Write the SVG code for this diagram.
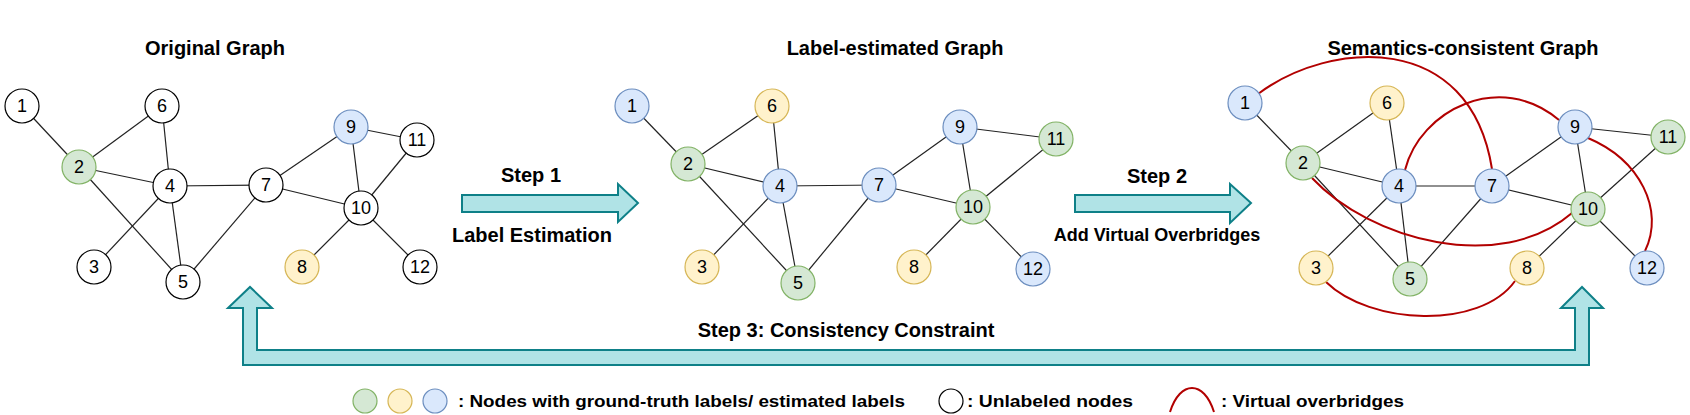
<svg xmlns="http://www.w3.org/2000/svg" width="1690" height="415" viewBox="0 0 1690 415">
<style>
text{font-family:"Liberation Sans",Arial,sans-serif}
.t{font-size:20px;font-weight:bold;text-anchor:middle}
.s{font-size:20px;font-weight:bold;text-anchor:middle}
.n{font-size:18px;text-anchor:middle;dominant-baseline:central}
.lg{font-size:16px;font-weight:bold}
.w{fill:#fff;stroke:#000;stroke-width:1.2}
.g{fill:#d5e8d4;stroke:#82b366;stroke-width:1.2}
.y{fill:#fff2cc;stroke:#d6b656;stroke-width:1.2}
.b{fill:#dae8fc;stroke:#6c8ebf;stroke-width:1.2}
.e line{stroke:#222;stroke-width:1.2}
.r{fill:none;stroke:#b20000;stroke-width:2}
.ar{fill:#b0e3e6;stroke:#0e8088;stroke-width:2}
</style>
<rect width="1690" height="415" fill="#fff"/>
<text class="t" x="215" y="55">Original Graph</text>
<text class="t" x="895" y="55">Label-estimated Graph</text>
<text class="t" x="1463" y="55">Semantics-consistent Graph</text>

<g id="connectors">
<g class="e">
<line x1="22" y1="106" x2="79" y2="167"/><line x1="79" y1="167" x2="162" y2="106"/><line x1="79" y1="167" x2="170" y2="186"/><line x1="79" y1="167" x2="183" y2="282"/><line x1="162" y1="106" x2="170" y2="186"/><line x1="170" y1="186" x2="94" y2="267"/><line x1="170" y1="186" x2="183" y2="282"/><line x1="170" y1="186" x2="266" y2="185"/><line x1="266" y1="185" x2="183" y2="282"/><line x1="266" y1="185" x2="351" y2="127"/><line x1="266" y1="185" x2="361" y2="208"/><line x1="351" y1="127" x2="361" y2="208"/><line x1="351" y1="127" x2="417" y2="140"/><line x1="417" y1="140" x2="361" y2="208"/><line x1="361" y1="208" x2="302" y2="267"/><line x1="361" y1="208" x2="420" y2="267"/>
</g>
<g class="e">
<line x1="632" y1="106" x2="688" y2="164"/><line x1="688" y1="164" x2="772" y2="106"/><line x1="688" y1="164" x2="780" y2="186"/><line x1="688" y1="164" x2="798" y2="283"/><line x1="772" y1="106" x2="780" y2="186"/><line x1="780" y1="186" x2="702" y2="267"/><line x1="780" y1="186" x2="798" y2="283"/><line x1="780" y1="186" x2="879" y2="185"/><line x1="879" y1="185" x2="798" y2="283"/><line x1="879" y1="185" x2="960" y2="127"/><line x1="879" y1="185" x2="973" y2="207"/><line x1="960" y1="127" x2="973" y2="207"/><line x1="960" y1="127" x2="1056" y2="139"/><line x1="1056" y1="139" x2="973" y2="207"/><line x1="973" y1="207" x2="914" y2="267"/><line x1="973" y1="207" x2="1033" y2="269"/>
</g>
<g class="e">
<line x1="1245" y1="103" x2="1303" y2="163"/><line x1="1303" y1="163" x2="1387" y2="103"/><line x1="1303" y1="163" x2="1399" y2="186"/><line x1="1303" y1="163" x2="1410" y2="279"/><line x1="1387" y1="103" x2="1399" y2="186"/><line x1="1399" y1="186" x2="1316" y2="268"/><line x1="1399" y1="186" x2="1410" y2="279"/><line x1="1399" y1="186" x2="1492" y2="186"/><line x1="1492" y1="186" x2="1410" y2="279"/><line x1="1492" y1="186" x2="1575" y2="127"/><line x1="1492" y1="186" x2="1588" y2="209"/><line x1="1575" y1="127" x2="1588" y2="209"/><line x1="1575" y1="127" x2="1668" y2="137"/><line x1="1668" y1="137" x2="1588" y2="209"/><line x1="1588" y1="209" x2="1527" y2="268"/><line x1="1588" y1="209" x2="1647" y2="268"/>
</g>
<path class="r" d="M1258,94 C1330,40 1470,30 1492,169"/>
<path class="r" d="M1405,170 C1420,110 1500,70 1559,120"/>
<path class="r" d="M1312,178 C1370,240 1500,275 1572,213"/>
<path class="r" d="M1588,138 C1640,160 1665,210 1645,251"/>
<path class="r" d="M1326,282 C1370,325 1480,330 1515,281"/>
</g>

<g id="g1">
<g id="g1n1"><circle class="w" cx="22" cy="106" r="17"/><text class="n" x="22" y="106">1</text></g>
<g id="g1n2"><circle class="g" cx="79" cy="167" r="17"/><text class="n" x="79" y="167">2</text></g>
<g id="g1n6"><circle class="w" cx="162" cy="106" r="17"/><text class="n" x="162" y="106">6</text></g>
<g id="g1n4"><circle class="w" cx="170" cy="186" r="17"/><text class="n" x="170" y="186">4</text></g>
<g id="g1n7"><circle class="w" cx="266" cy="185" r="17"/><text class="n" x="266" y="185">7</text></g>
<g id="g1n9"><circle class="b" cx="351" cy="127" r="17"/><text class="n" x="351" y="127">9</text></g>
<g id="g1n11"><circle class="w" cx="417" cy="140" r="17"/><text class="n" x="417" y="140">11</text></g>
<g id="g1n10"><circle class="w" cx="361" cy="208" r="17"/><text class="n" x="361" y="208">10</text></g>
<g id="g1n3"><circle class="w" cx="94" cy="267" r="17"/><text class="n" x="94" y="267">3</text></g>
<g id="g1n5"><circle class="w" cx="183" cy="282" r="17"/><text class="n" x="183" y="282">5</text></g>
<g id="g1n8"><circle class="y" cx="302" cy="267" r="17"/><text class="n" x="302" y="267">8</text></g>
<g id="g1n12"><circle class="w" cx="420" cy="267" r="17"/><text class="n" x="420" y="267">12</text></g>
</g>

<g id="g2">
<g id="g2n1"><circle class="b" cx="632" cy="106" r="17"/><text class="n" x="632" y="106">1</text></g>
<g id="g2n2"><circle class="g" cx="688" cy="164" r="17"/><text class="n" x="688" y="164">2</text></g>
<g id="g2n6"><circle class="y" cx="772" cy="106" r="17"/><text class="n" x="772" y="106">6</text></g>
<g id="g2n4"><circle class="b" cx="780" cy="186" r="17"/><text class="n" x="780" y="186">4</text></g>
<g id="g2n7"><circle class="b" cx="879" cy="185" r="17"/><text class="n" x="879" y="185">7</text></g>
<g id="g2n9"><circle class="b" cx="960" cy="127" r="17"/><text class="n" x="960" y="127">9</text></g>
<g id="g2n11"><circle class="g" cx="1056" cy="139" r="17"/><text class="n" x="1056" y="139">11</text></g>
<g id="g2n10"><circle class="g" cx="973" cy="207" r="17"/><text class="n" x="973" y="207">10</text></g>
<g id="g2n3"><circle class="y" cx="702" cy="267" r="17"/><text class="n" x="702" y="267">3</text></g>
<g id="g2n5"><circle class="g" cx="798" cy="283" r="17"/><text class="n" x="798" y="283">5</text></g>
<g id="g2n8"><circle class="y" cx="914" cy="267" r="17"/><text class="n" x="914" y="267">8</text></g>
<g id="g2n12"><circle class="b" cx="1033" cy="269" r="17"/><text class="n" x="1033" y="269">12</text></g>
</g>

<g id="g3">
<g id="g3n1"><circle class="b" cx="1245" cy="103" r="17"/><text class="n" x="1245" y="103">1</text></g>
<g id="g3n2"><circle class="g" cx="1303" cy="163" r="17"/><text class="n" x="1303" y="163">2</text></g>
<g id="g3n6"><circle class="y" cx="1387" cy="103" r="17"/><text class="n" x="1387" y="103">6</text></g>
<g id="g3n4"><circle class="b" cx="1399" cy="186" r="17"/><text class="n" x="1399" y="186">4</text></g>
<g id="g3n7"><circle class="b" cx="1492" cy="186" r="17"/><text class="n" x="1492" y="186">7</text></g>
<g id="g3n9"><circle class="b" cx="1575" cy="127" r="17"/><text class="n" x="1575" y="127">9</text></g>
<g id="g3n11"><circle class="g" cx="1668" cy="137" r="17"/><text class="n" x="1668" y="137">11</text></g>
<g id="g3n10"><circle class="g" cx="1588" cy="209" r="17"/><text class="n" x="1588" y="209">10</text></g>
<g id="g3n3"><circle class="y" cx="1316" cy="268" r="17"/><text class="n" x="1316" y="268">3</text></g>
<g id="g3n5"><circle class="g" cx="1410" cy="279" r="17"/><text class="n" x="1410" y="279">5</text></g>
<g id="g3n8"><circle class="y" cx="1527" cy="268" r="17"/><text class="n" x="1527" y="268">8</text></g>
<g id="g3n12"><circle class="b" cx="1647" cy="268" r="17"/><text class="n" x="1647" y="268">12</text></g>
</g>

<g id="step1">
<polygon class="ar" points="462,195 618,195 618,184 638,203 618,222 618,212 462,212"/>
<text class="s" x="531" y="182">Step 1</text>
<text class="s" x="532" y="242">Label Estimation</text>
</g>
<g id="step2">
<polygon class="ar" points="1075,195 1230,195 1230,184 1251,203 1230,223 1230,212 1075,212"/>
<text class="s" x="1157" y="183">Step 2</text>
<text class="s" x="1157" y="241" style="font-size:18px">Add Virtual Overbridges</text>
</g>
<g id="step3">
<polygon class="ar" points="243,308 228,308 250,287 272,308 257,308 257,350 1575,350 1575,308 1561,308 1582,287 1603,308 1589,308 1589,365 243,365"/>
<text class="s" x="846" y="337">Step 3: Consistency Constraint</text>
</g>

<g id="legend">
<circle class="g" cx="365" cy="401" r="12"/>
<circle class="y" cx="400" cy="401" r="12"/>
<circle class="b" cx="435" cy="401" r="12"/>
<text class="lg" x="458" y="407" textLength="447" lengthAdjust="spacingAndGlyphs">: Nodes with ground-truth labels/ estimated labels</text>
<circle class="w" cx="951" cy="401" r="12"/>
<text class="lg" x="967" y="407" textLength="166" lengthAdjust="spacingAndGlyphs">: Unlabeled nodes</text>
<path class="r" d="M1170,412 C1180,380 1204,380 1214,412"/>
<text class="lg" x="1221" y="407" textLength="183" lengthAdjust="spacingAndGlyphs">: Virtual overbridges</text>
</g>
</svg>
